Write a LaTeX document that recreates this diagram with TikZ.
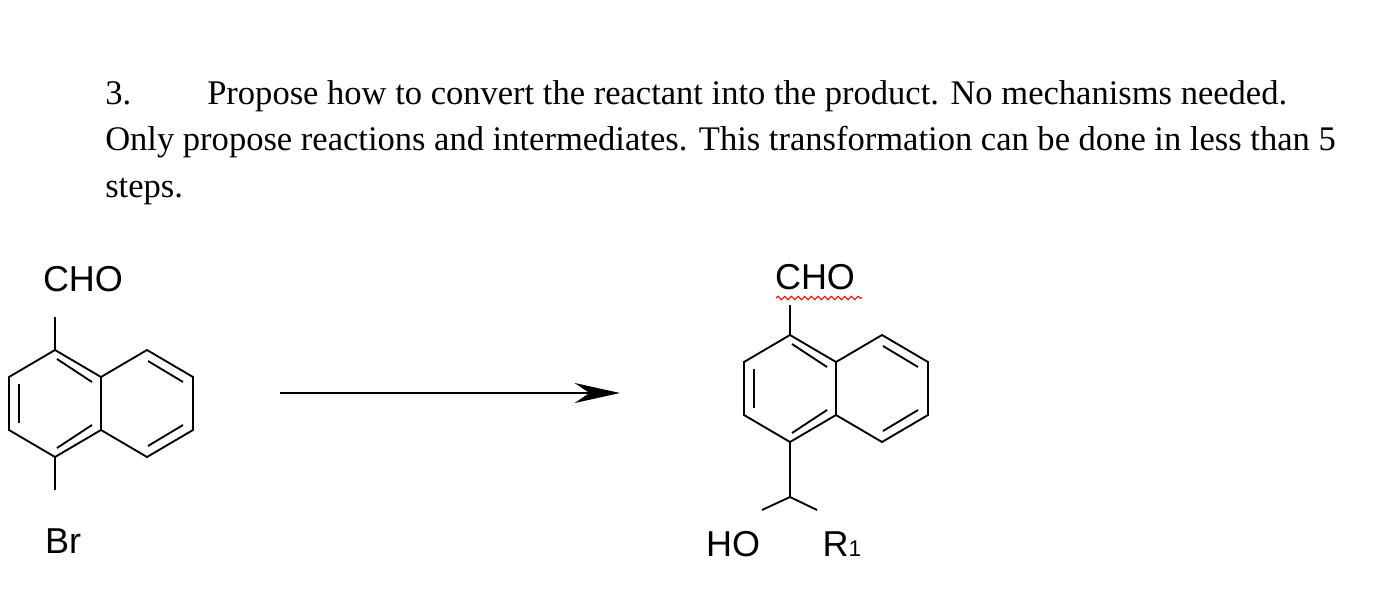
\documentclass[tikz,border=0pt]{standalone}
\usepackage{fontspec}
\setmainfont{Liberation Serif}
\newfontfamily\arial{Liberation Sans}
\usetikzlibrary{arrows.meta,decorations.pathmorphing}
\newcommand{\naphth}{%
\coordinate (a1) at (55,350); \coordinate (a2) at (9,377); \coordinate (a3) at (9,430);
\coordinate (a4) at (55,457); \coordinate (a5) at (101,430); \coordinate (a6) at (101,377);
\coordinate (b2) at (147,350); \coordinate (b3) at (193,377); \coordinate (b4) at (193,430); \coordinate (b5) at (147,457);
\draw[bond] (a1)--(a2)--(a3)--(a4)--(a5)--(a6)--cycle (a6)--(b2)--(b3)--(b4)--(b5)--(a5);
\draw[bond] (19,384)--(19,423);
\draw[bond] (57,359)--(92,382);
\draw[bond] (57,448)--(92,425);
\draw[bond] (148,361)--(183,382);
\draw[bond] (148,446)--(183,425);}
\begin{document}
\begin{tikzpicture}[x=0.75pt,y=-0.75pt,
  bond/.style={line width=1.4pt},
  txt/.style={font=\fontsize{25.9}{30}\selectfont,anchor=base west,inner sep=0},
  lab/.style={font=\arial\fontsize{27}{30}\selectfont,inner sep=0}]
\useasboundingbox (0,0) rectangle (1374,590);
\node[txt] (n3) at (105,104) {3.};
\node[txt] (l1) at (207,104) {Propose how to convert the reactant into the product. No mechanisms needed.};
\node[txt] (l2) at (105,150) {Only propose reactions and intermediates. This transformation can be done in less than 5};
\node[txt] (l3) at (105,197) {steps.};
% reactant
\naphth
\node[lab] (cho1) at (83,279) {CHO};
\node[lab] (br) at (63,541) {Br};
\draw[bond] (a1)--(55,317);
\draw[bond] (a4)--(55,490);
% arrow
\coordinate (s) at (280,393); \coordinate (e) at (620,393);
\draw[line width=1.4pt,-{Stealth[length=34pt,width=15pt]}] (s)--(e);
% product
\begin{scope}[shift={(735,-15)}]
\naphth
\coordinate (c) at (55,512);
\draw[bond] (a1)--(55,320);
\draw[bond] (a4)--(c)--(27,525) (c)--(82,525);
\end{scope}
\node[lab] (cho2) at (815,277) {CHO};
\draw[red,line width=0.8pt,decorate,decoration={snake,amplitude=1.3pt,segment length=5pt}] (776,298)--(862,298);
\node[lab] (ho) at (733,544) {HO};
\node[lab] (r1) at (842,544) {R{\fontsize{17}{20}\selectfont 1}};
\end{tikzpicture}
\end{document}
